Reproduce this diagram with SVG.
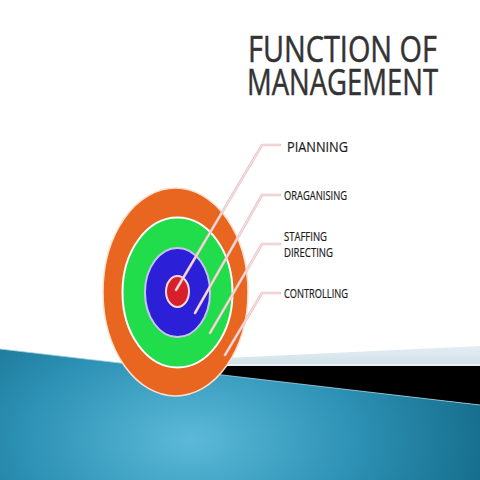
<svg xmlns="http://www.w3.org/2000/svg" width="480" height="480" viewBox="0 0 480 480">
<defs>
<radialGradient id="teal" cx="190" cy="440" r="300" gradientUnits="userSpaceOnUse" gradientTransform="translate(190 440) scale(1 0.6) translate(-190 -440)">
<stop offset="0" stop-color="#5cb9d8"/>
<stop offset="0.55" stop-color="#2d92b5"/>
<stop offset="1" stop-color="#166d8c"/>
</radialGradient>
<linearGradient id="light" x1="0" y1="0" x2="0" y2="1">
<stop offset="0" stop-color="#e4eef3"/>
<stop offset="1" stop-color="#cfe0e8"/>
</linearGradient>
</defs>
<style>
.t{font-family:"Open Sans","Liberation Sans",sans-serif;fill:#333;stroke:#333;stroke-width:0.5}
.lab{font-family:"Open Sans","Liberation Sans",sans-serif;fill:#1a1a1a;stroke:#1a1a1a;stroke-width:0.2}
.ptr{fill:none;stroke:#ecc4c6;stroke-width:2.6;stroke-linecap:round;stroke-linejoin:round}
.ptr2{fill:none;stroke:#fbeeee;stroke-width:0.8;stroke-linecap:round;stroke-linejoin:round}
</style>
<rect width="480" height="480" fill="#ffffff"/>
<polygon points="120,363 480,346 480,366 120,366" fill="url(#light)"/>
<line x1="120" y1="365" x2="480" y2="365" stroke="#f2f6f8" stroke-width="1.5"/>
<polygon points="140,366 480,366 480,405" fill="#000"/>
<polygon points="0,349 480,405 480,480 0,480" fill="url(#teal)"/>
<line x1="0" y1="349" x2="480" y2="405" stroke="#9fd0e0" stroke-width="0.8"/>

<g id="target">
<ellipse cx="175.5" cy="292" rx="72.5" ry="104" fill="#e8661f" stroke="#fbe0d0" stroke-width="1.5"/>
<ellipse cx="177.5" cy="292.5" rx="55" ry="75" fill="#22dd4b" stroke="#ffffff" stroke-width="2"/>
<ellipse cx="177.5" cy="292.5" rx="32.5" ry="44.5" fill="#2b1fd8" stroke="#c9c2f2" stroke-width="2"/>
<ellipse cx="177.5" cy="291.5" rx="11.5" ry="15.5" fill="#d8202c" stroke="#f6dada" stroke-width="2"/>
</g>

<g id="connectors">
<polyline class="ptr" points="176,290 262,145 280,145"/>
<polyline class="ptr" points="195,313 262,195 280,195"/>
<polyline class="ptr" points="210,333 262,244 280,244"/>
<polyline class="ptr" points="225,355 262,293 280,293"/>
<polyline class="ptr2" points="176,290 262,145 280,145"/>
<polyline class="ptr2" points="195,313 262,195 280,195"/>
<polyline class="ptr2" points="210,333 262,244 280,244"/>
<polyline class="ptr2" points="225,355 262,293 280,293"/>
</g>

<g id="title">
<text class="t" x="248" y="62" font-size="37" textLength="189" lengthAdjust="spacingAndGlyphs">FUNCTION OF</text>
<text class="t" x="247" y="95" font-size="37" textLength="191" lengthAdjust="spacingAndGlyphs">MANAGEMENT</text>
</g>
<g id="planning"><text class="lab" x="287" y="152" font-size="15" textLength="61" lengthAdjust="spacingAndGlyphs">PIANNING</text></g>
<g id="organising"><text class="lab" x="284" y="200" font-size="12.5" textLength="63" lengthAdjust="spacingAndGlyphs">ORAGANISING</text></g>
<g id="staffing">
<text class="lab" x="284" y="241" font-size="12.5" textLength="43" lengthAdjust="spacingAndGlyphs">STAFFING</text>
<text class="lab" x="284" y="257" font-size="12.5" textLength="49" lengthAdjust="spacingAndGlyphs">DIRECTING</text>
</g>
<g id="controlling"><text class="lab" x="284" y="298" font-size="12.5" textLength="64" lengthAdjust="spacingAndGlyphs">CONTROLLING</text></g>
</svg>
